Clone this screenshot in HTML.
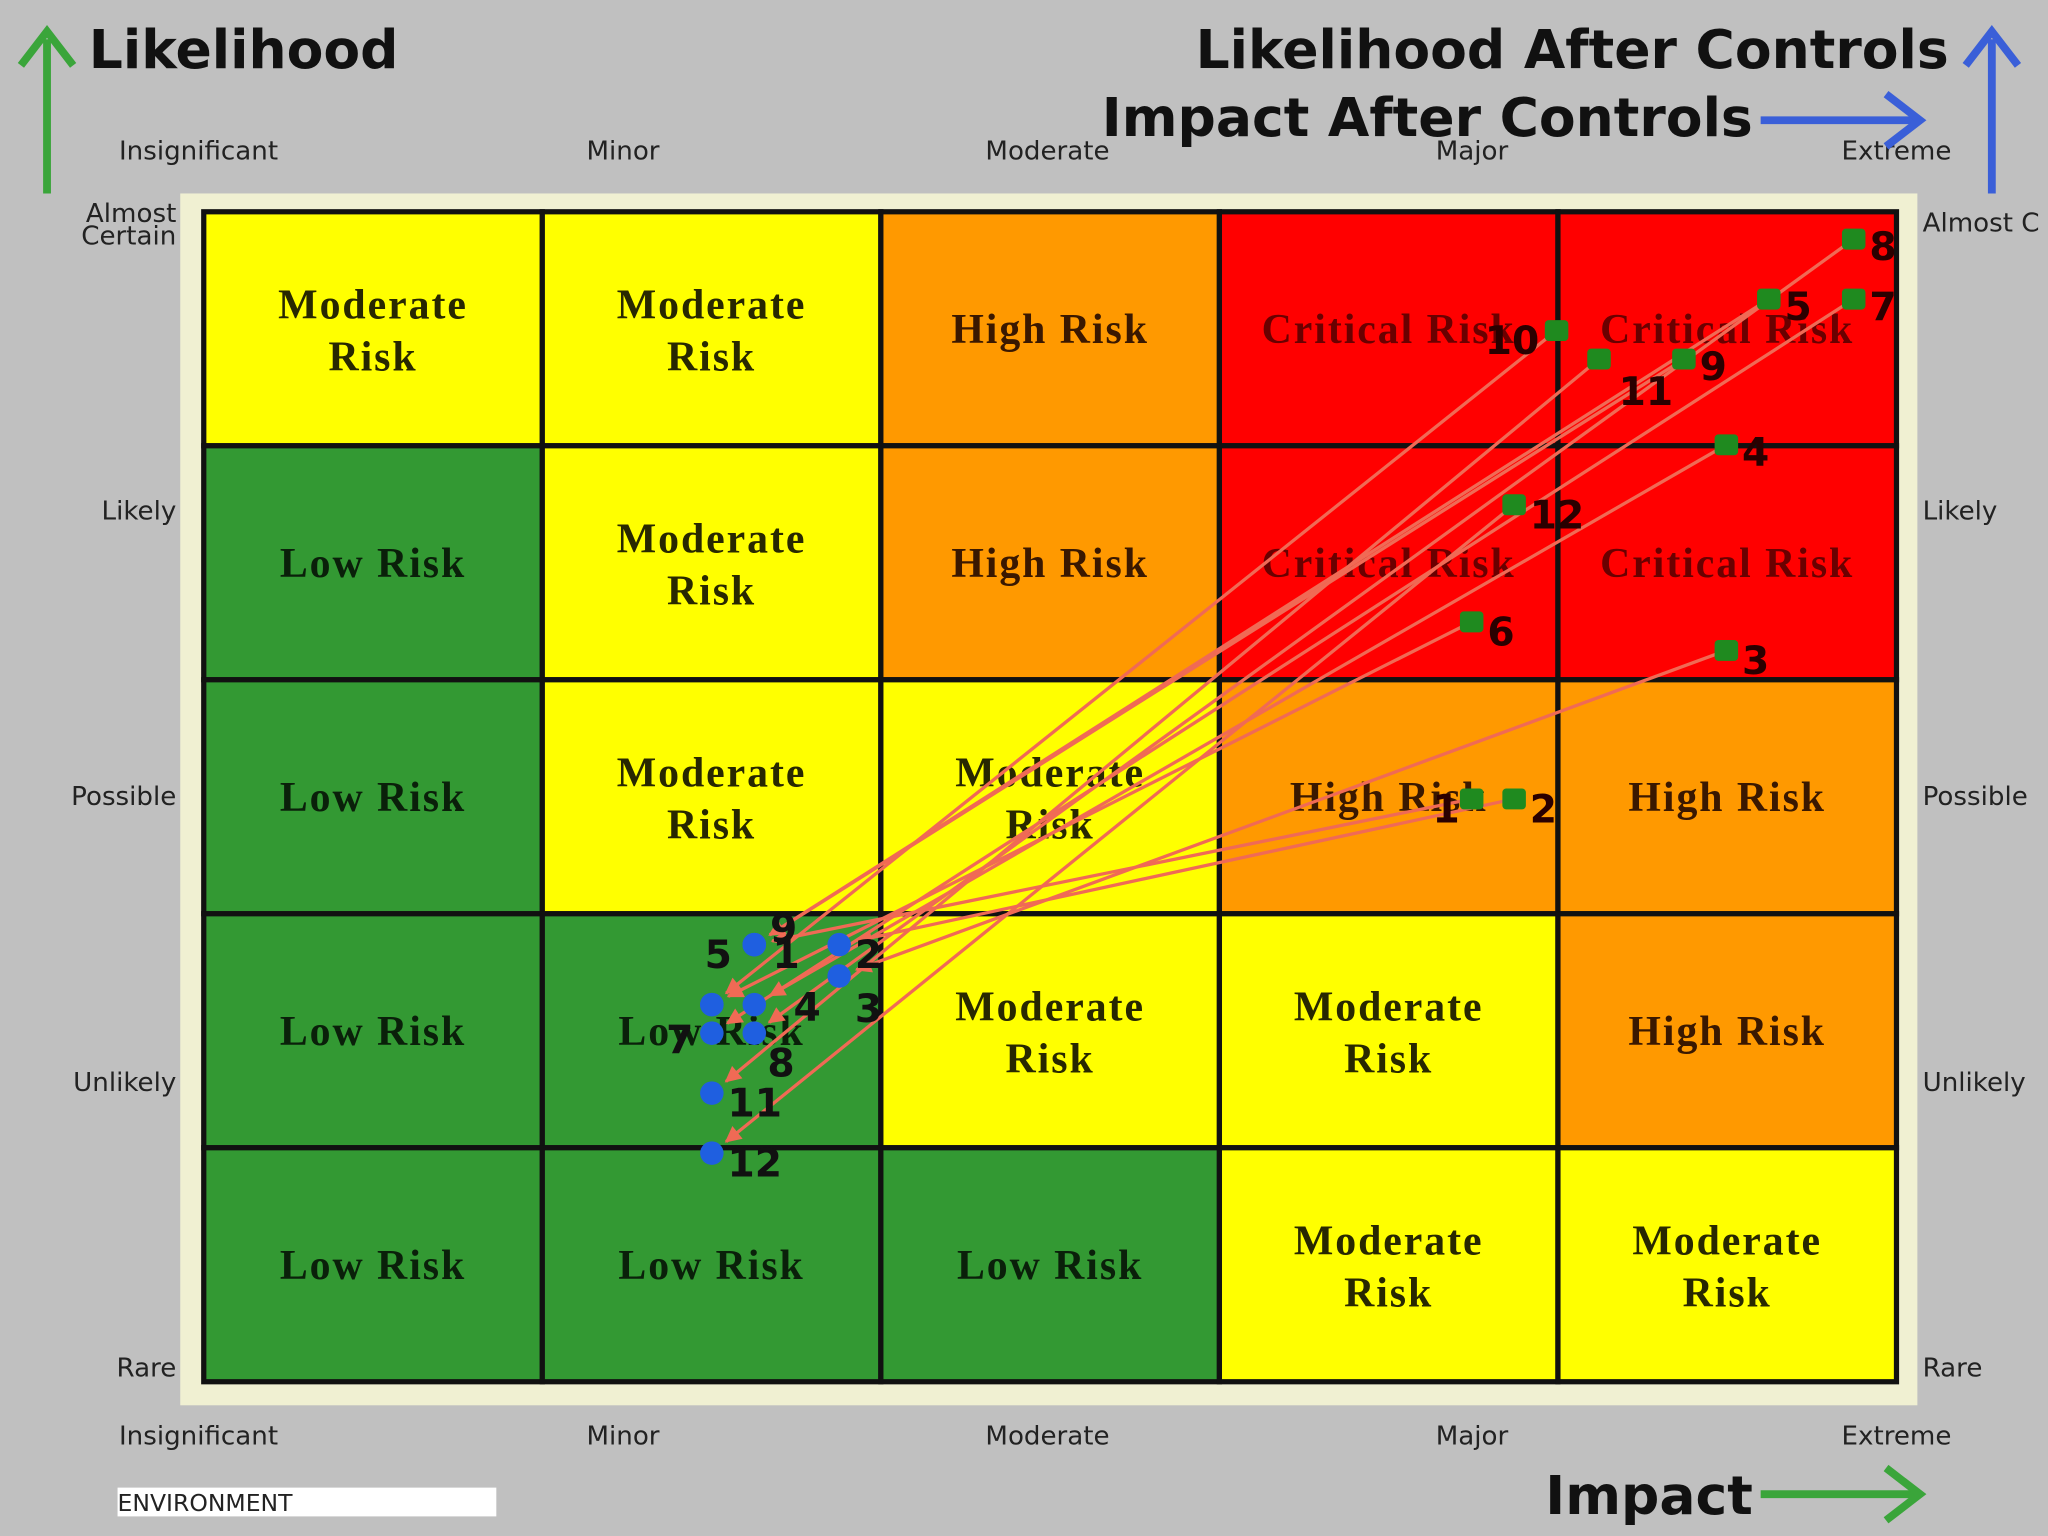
<!DOCTYPE html>
<html><head><meta charset="utf-8"><style>
html,body{margin:0;padding:0;background:#c0c0c0;}
svg{display:block;}
.ax{font-family:"DejaVu Sans","Liberation Sans",sans-serif;font-size:20px;fill:#222;}
.ttl{font-family:"DejaVu Sans","Liberation Sans",sans-serif;font-weight:bold;font-size:41px;fill:#111;}
.cell{font-family:"Liberation Serif",serif;font-weight:bold;font-size:32px;letter-spacing:1.5px;text-anchor:middle;}
.lbl{font-family:"DejaVu Sans","Liberation Sans",sans-serif;font-weight:bold;font-size:30px;}
</style></head><body>
<svg id="chart" width="2048" height="1536" viewBox="0 0 1568 1175" preserveAspectRatio="none" xmlns="http://www.w3.org/2000/svg">
<defs>
<marker id="ah" viewBox="0 0 10 10" refX="9" refY="5" markerWidth="6" markerHeight="5" orient="auto"><path d="M0,0L10,5L0,10z" fill="#f06a55"/></marker>
</defs>
<rect x="0" y="0" width="1568" height="1175" fill="#c0c0c0"/>
<rect x="138" y="148" width="1330" height="927" fill="#f0f0d2"/>
<g id="cells"></g>
<g id="axes"></g>
<g id="marks"></g>

<text class="ttl" x="68" y="52">Likelihood</text>
<line x1="36" y1="148" x2="36" y2="30" stroke="#3aa53a" stroke-width="6"/>
<path d="M16,50 L36,24 L56,50" fill="none" stroke="#3aa53a" stroke-width="6"/>
<text class="ttl" x="1492" y="52" text-anchor="end">Likelihood After Controls</text>
<line x1="1525" y1="148" x2="1525" y2="30" stroke="#3a5fd8" stroke-width="6"/>
<path d="M1505,50 L1525,24 L1545,50" fill="none" stroke="#3a5fd8" stroke-width="6"/>
<text class="ttl" x="1342" y="104" text-anchor="end">Impact After Controls</text>
<line x1="1348" y1="92" x2="1466" y2="92" stroke="#3a5fd8" stroke-width="6"/>
<path d="M1444,72 L1470,92 L1444,112" fill="none" stroke="#3a5fd8" stroke-width="6"/>
<text class="ttl" x="1342" y="1158" text-anchor="end">Impact</text>
<line x1="1348" y1="1143" x2="1466" y2="1143" stroke="#3aa53a" stroke-width="6"/>
<path d="M1444,1123 L1470,1143 L1444,1163" fill="none" stroke="#3aa53a" stroke-width="6"/>
<rect x="90" y="1138" width="290" height="22" fill="#fff"/>
<text class="ax" x="90" y="1156" style="font-size:18px">ENVIRONMENT</text>
</svg>
<script>
const impactCats=["Insignificant","Minor","Moderate","Major","Extreme"];
const likelihoodCats=["Rare","Unlikely","Possible","Likely","Almost Certain"];
const cellMatrix=[
["Moderate Risk","Moderate Risk","High Risk","Critical Risk","Critical Risk"],
["Low Risk","Moderate Risk","High Risk","Critical Risk","Critical Risk"],
["Low Risk","Moderate Risk","Moderate Risk","High Risk","High Risk"],
["Low Risk","Low Risk","Moderate Risk","Moderate Risk","High Risk"],
["Low Risk","Low Risk","Low Risk","Moderate Risk","Moderate Risk"]];
const riskIds=[1,2,3,4,5,6,7,8,9,10,11,12];
const beforeImpact=[3.99,4.09,4.59,4.59,4.69,3.99,4.89,4.89,4.49,4.19,4.29,4.09];
const beforeLike=[2.99,2.99,3.51,4.23,4.74,3.61,4.74,4.95,4.53,4.63,4.53,4.02];
const afterImpact=[2.30,2.50,2.50,2.30,2.30,2.20,2.20,2.30,2.30,2.20,2.20,2.20];
const afterLike=[2.48,2.48,2.37,2.27,2.48,2.27,2.17,2.17,2.48,2.27,1.96,1.75];
// label placement offsets (styling, not data)
const beforeLblDx=[-30,12,12,12,12,12,12,12,12,-55,15,12];
const beforeLblDy=[18,18,18,16,16,18,16,16,16,18,35,18];
const afterLblDx=[14,12,12,30,-38,0,-35,10,12,0,12,12];
const afterLblDy=[18,18,35,12,18,0,15,33,-2,0,18,18];
const afterLblShow=[1,1,1,1,1,0,1,1,1,0,1,1];

const NS="http://www.w3.org/2000/svg";
function mk(t,a,p){const e=document.createElementNS(NS,t);for(const k in a)e.setAttribute(k,a[k]);p.appendChild(e);return e;}
const xA=v=>155+(v-1)*325;
const yA=v=>1046-(v-1)*218.5;
const gx0=156,gx1=1452,gy0=162,gy1=1057;
const cw=(gx1-gx0)/5,ch=(gy1-gy0)/5;
const fill={"Low Risk":"#339933","Moderate Risk":"#ffff00","High Risk":"#ff9900","Critical Risk":"#ff0000"};
const tcol={"Low Risk":"#0a200a","Moderate Risk":"#282800","High Risk":"#3a1800","Critical Risk":"#6a0000"};
const cells=document.getElementById('cells');
cellMatrix.forEach((row,r)=>row.forEach((name,c)=>{
 const x=gx0+c*cw,y=gy0+r*ch;
 const rc=mk('rect',{x:x,y:y,width:cw,height:ch,fill:fill[name],stroke:"#111","stroke-width":4},cells);
 
 
 const t=mk('text',{class:'cell',x:x+cw/2,fill:tcol[name]},cells);
 
 
 const parts=name==="Moderate Risk"?["Moderate","Risk"]:[name];
 parts.forEach((p,i)=>{const s=mk('tspan',{x:x+cw/2,y:y+ch/2+11+(parts.length===2?(i===0?-19:21):0)},t);s.textContent=p;});
}));
const axes=document.getElementById('axes');
impactCats.forEach((c,i)=>{
 [118,1101].forEach(yy=>{const t=mk('text',{class:'ax',x:xA(i+1)-3,y:yy+4,'text-anchor':'middle'},axes);t.textContent=c;
 });
});
likelihoodCats.forEach((c,i)=>{
 const y=yA(i+1)+7;
 if(c==="Almost Certain"){
  const a=mk('text',{class:'ax',x:135,y:y-9,'text-anchor':'end'},axes);a.textContent="Almost";
  
  const b=mk('text',{class:'ax',x:135,y:y+8,'text-anchor':'end'},axes);b.textContent="Certain";
  
  const d=mk('text',{class:'ax',x:1472,y:y-2},axes);d.textContent="Almost C";
  
 } else {
  const a=mk('text',{class:'ax',x:135,y:y,'text-anchor':'end'},axes);a.textContent=c;
  
  const d=mk('text',{class:'ax',x:1472,y:y},axes);d.textContent=c;
  
 }
});
const marks=document.getElementById('marks');
riskIds.forEach((id,i)=>{
 const x1=xA(beforeImpact[i]),y1=yA(beforeLike[i]),x2=xA(afterImpact[i]),y2=yA(afterLike[i]);
 const dx=x2-x1,dy=y2-y1,L=Math.hypot(dx,dy),k=(L-14)/L;
 const ln=mk('line',{x1:x1,y1:y1,x2:x1+dx*k,y2:y1+dy*k,stroke:"#f06a55","stroke-width":2.5,'marker-end':'url(#ah)'},marks);
 
 
});
riskIds.forEach((id,i)=>{
 const x1=xA(beforeImpact[i]),y1=yA(beforeLike[i]),x2=xA(afterImpact[i]),y2=yA(afterLike[i]);
 const g=mk('rect',{x:x1-9,y:y1-8,width:18,height:16,rx:3,fill:"#1f8a1f"},marks);
 
 
 const gt=mk('text',{class:'lbl',x:x1+beforeLblDx[i],y:y1+beforeLblDy[i],fill:"#2a0000"},marks);gt.textContent=id;
 
 
 const b=mk('circle',{cx:x2,cy:y2,r:9,fill:"#1f5fe0"},marks);
 
 
 if(afterLblShow[i]){
  const bt=mk('text',{class:'lbl',x:x2+afterLblDx[i],y:y2+afterLblDy[i],fill:"#111"},marks);bt.textContent=id;
  
  
 }
});
</script>
</body></html>
